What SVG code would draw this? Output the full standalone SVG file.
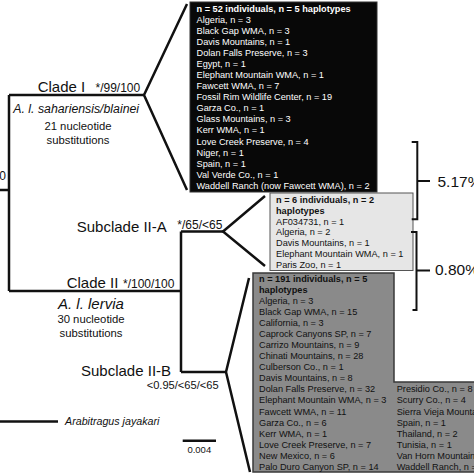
<svg xmlns="http://www.w3.org/2000/svg" width="474" height="474" viewBox="0 0 474 474">
<style>
text{font-family:"Liberation Sans",Arial,sans-serif;fill:#111}
.lbl{font-size:15px}
.sup{font-size:12px}
.it{font-style:italic}
.box{font-size:9.2px}
.w{fill:#fff}
.b{font-weight:bold}
.ln{fill:none;stroke:#111;stroke-width:2.5;stroke-linejoin:miter}
.br{fill:none;stroke:#111;stroke-width:2}
</style>
<rect width="474" height="474" fill="#fff"/>
<g id="connectors">
<path class="ln" d="M0,190 H9 M9,95 V291 M9,95 H144 M9,291 H181 M181,231.5 V372 M181,231.5 H223 M181,372 H226"/>
<path class="ln" d="M187,4 L144,95 L187,190"/>
<path class="ln" d="M265,196 L223,231.5 L265,266"/>
<path class="ln" d="M249,278 L226,372 L250,472"/>
<path class="ln" d="M0,421.5 H58"/>
<path class="ln" d="M182.7,440.7 H216"/>
</g>
<g id="root-label"><text class="sup" x="6" y="179.5" text-anchor="end">0</text></g>
<g id="clade-I">
<text class="lbl" x="37.7" y="92">Clade I</text>
<text class="sup" x="95.5" y="92">*/99/100</text>
<text class="it" x="13.3" y="112.5" font-size="12.3">A. l. sahariensis/blainei</text>
<text x="78" y="130" font-size="11.3" text-anchor="middle">21 nucleotide</text>
<text x="78" y="144" font-size="11.3" text-anchor="middle">substitutions</text>
</g>
<g id="box-clade-I">
<rect x="190" y="2" width="187" height="190" fill="#080808" stroke="#333" stroke-width="1"/>
<text class="box w" x="196.5" y="11.6"><tspan class="b w">n = 52 individuals, n = 5 haplotypes</tspan><tspan x="196.5" dy="11.08">Algeria, n = 3</tspan><tspan x="196.5" dy="11.08">Black Gap WMA, n = 3</tspan><tspan x="196.5" dy="11.08">Davis Mountains, n = 1</tspan><tspan x="196.5" dy="11.08">Dolan Falls Preserve, n = 3</tspan><tspan x="196.5" dy="11.08">Egypt, n = 1</tspan><tspan x="196.5" dy="11.08">Elephant Mountain WMA, n = 1</tspan><tspan x="196.5" dy="11.08">Fawcett WMA, n = 7</tspan><tspan x="196.5" dy="11.08">Fossil Rim Wildlife Center, n = 19</tspan><tspan x="196.5" dy="11.08">Garza Co., n = 1</tspan><tspan x="196.5" dy="11.08">Glass Mountains, n = 3</tspan><tspan x="196.5" dy="11.08">Kerr WMA, n = 1</tspan><tspan x="196.5" dy="11.08">Love Creek Preserve, n = 4</tspan><tspan x="196.5" dy="11.08">Niger, n = 1</tspan><tspan x="196.5" dy="11.08">Spain, n = 1</tspan><tspan x="196.5" dy="11.08">Val Verde Co., n = 1</tspan><tspan x="196.5" dy="11.08">Waddell Ranch (now Fawcett WMA), n = 2</tspan></text>
</g>
<g id="subclade-II-A">
<text class="lbl" x="76.7" y="232">Subclade II-A</text>
<text class="sup" x="177.3" y="229">*/65/&lt;65</text>
</g>
<g id="box-subclade-II-A">
<rect x="270" y="193" width="143" height="77.5" fill="#e6e6e6" stroke="#555" stroke-width="1"/>
<text class="box" x="276" y="203.3"><tspan class="b">n = 6 individuals, n = 2</tspan><tspan class="b" x="276" dy="10.7">haplotypes</tspan><tspan x="276" dy="10.7">AF034731, n = 1</tspan><tspan x="276" dy="10.7">Algeria, n = 2</tspan><tspan x="276" dy="10.7">Davis Mountains, n = 1</tspan><tspan x="276" dy="10.7">Elephant Mountain WMA, n = 1</tspan><tspan x="276" dy="10.7">Paris Zoo, n = 1</tspan></text>
</g>
<g id="clade-II">
<text class="lbl" x="66.7" y="288">Clade II</text>
<text class="sup" x="123" y="288">*/100/100</text>
<text class="it" x="58" y="308.5" font-size="15">A. l. lervia</text>
<text x="91" y="323" font-size="11.3" text-anchor="middle">30 nucleotide</text>
<text x="91" y="337" font-size="11.3" text-anchor="middle">substitutions</text>
</g>
<g id="subclade-II-B">
<text class="lbl" x="81" y="375.5">Subclade II-B</text>
<text x="146.7" y="389" font-size="11.1">&lt;0.95/&lt;65/&lt;65</text>
</g>
<g id="box-subclade-II-B">
<path d="M253,273 H394 V382 H480 V472 H253 Z" fill="#8a8a8a" stroke="#3a3a3a" stroke-width="1.5"/>
<text class="box" x="259" y="281.6"><tspan class="b">n = 191 individuals, n = 5</tspan><tspan class="b" x="259" dy="11.08">haplotypes</tspan><tspan x="259" dy="11.08">Algeria, n = 3</tspan><tspan x="259" dy="11.08">Black Gap WMA, n = 15</tspan><tspan x="259" dy="11.08">California, n = 3</tspan><tspan x="259" dy="11.08">Caprock Canyons SP, n = 7</tspan><tspan x="259" dy="11.08">Carrizo Mountains, n = 9</tspan><tspan x="259" dy="11.08">Chinati Mountains, n = 28</tspan><tspan x="259" dy="11.08">Culberson Co., n = 1</tspan><tspan x="259" dy="11.08">Davis Mountains, n = 8</tspan><tspan x="259" dy="11.08">Dolan Falls Preserve, n = 32</tspan><tspan x="259" dy="11.08">Elephant Mountain WMA, n = 3</tspan><tspan x="259" dy="11.08">Fawcett WMA, n = 11</tspan><tspan x="259" dy="11.08">Garza Co., n = 6</tspan><tspan x="259" dy="11.08">Kerr WMA, n = 1</tspan><tspan x="259" dy="11.08">Love Creek Preserve, n = 7</tspan><tspan x="259" dy="11.08">New Mexico, n = 6</tspan><tspan x="259" dy="11.08">Palo Duro Canyon SP, n = 14</tspan></text>
<text class="box" x="396.7" y="392.4"><tspan>Presidio Co., n = 8</tspan><tspan x="396.7" dy="11.08">Scurry Co., n = 4</tspan><tspan x="396.7" dy="11.08">Sierra Vieja Mountains</tspan><tspan x="396.7" dy="11.08">Spain, n = 1</tspan><tspan x="396.7" dy="11.08">Thailand, n = 2</tspan><tspan x="396.7" dy="11.08">Tunisia, n = 1</tspan><tspan x="396.7" dy="11.08">Van Horn Mountains</tspan><tspan x="396.7" dy="11.08">Waddell Ranch, n =</tspan></text>
</g>
<g id="bracket-5-17">
<path class="br" d="M411.7,142 H417.3 V219.3 H411.7 M417.3,181 H430"/>
<text x="437.5" y="186.5" font-size="15.5">5.17%</text>
</g>
<g id="bracket-0-80">
<path class="br" d="M411,232 H416.5 V310 H412.5 M416.5,270.5 H430"/>
<text x="435" y="275" font-size="15.5">0.80%</text>
</g>
<g id="outgroup">
<text class="it" x="65" y="425" font-size="10.7">Arabitragus jayakari</text>
</g>
<g id="scale-bar">
<text x="199.3" y="453" font-size="9.5" text-anchor="middle">0.004</text>
</g>
</svg>
